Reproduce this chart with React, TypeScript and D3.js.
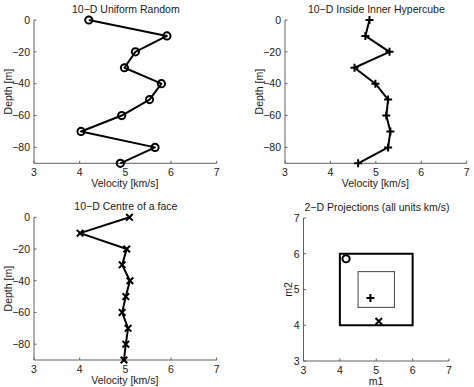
import { useEffect, useRef } from "react";
import * as d3 from "d3";

const depths = [0, -10, -20, -30, -40, -50, -60, -70, -80, -90];
const uniformRandom = [4.2, 5.91, 5.22, 4.98, 5.79, 5.53, 4.92, 4.03, 5.65, 4.89];
const innerHypercube = [4.86, 4.77, 5.3, 4.53, 4.99, 5.27, 5.23, 5.32, 5.27, 4.61];
const centreOfFace = [5.09, 4.01, 5.03, 4.93, 5.1, 5.01, 4.93, 5.06, 5.01, 4.97];
const velocityTicks = [3, 4, 5, 6, 7];
const depthTicks = [0, -20, -40, -60, -80];
const projTicks = [3, 4, 5, 6, 7];
// 2-D projection points [m1, m2]
const projPoints: { m: [number, number]; marker: string }[] = [
  { m: [4.17, 5.86], marker: "o" },
  { m: [4.84, 4.76], marker: "+" },
  { m: [5.07, 4.11], marker: "x" },
];
const outerBox = [4, 6];
const innerBox = [4.5, 5.5];

const W = 474;
const H = 387;
const axisColor = "#606060";
const textColor = "#1a1a1a";
const font = "'Liberation Sans', Arial, sans-serif";
const fs = 10.5;

const fmt = (v: number) => (v < 0 ? "\u2212" + Math.abs(v) : String(v));

function drawMarker(g: any, x: number, y: number, type: string) {
  if (type === "o") {
    g.append("circle").attr("cx", x).attr("cy", y).attr("r", 3.6)
      .attr("fill", "none").attr("stroke", "#000").attr("stroke-width", 2);
  } else if (type === "+") {
    const s = 4;
    g.append("path").attr("d", `M${x - s},${y}H${x + s}M${x},${y - s}V${y + s}`)
      .attr("stroke", "#000").attr("stroke-width", 2);
  } else {
    const s = 3.3;
    g.append("path")
      .attr("d", `M${x - s},${y - s}L${x + s},${y + s}M${x - s},${y + s}L${x + s},${y - s}`)
      .attr("stroke", "#000").attr("stroke-width", 2);
  }
}

function drawAxes(svg: any, x: any, y: any, xt: number[], yt: number[]) {
  const [x0, x1] = x.range();
  const [y0, y1] = y.range();
  const yb = Math.max(y0, y1);
  const yTop = Math.min(y0, y1);
  const g = svg.append("g");
  g.append("path").attr("d", `M${x0},${yTop}V${yb}H${x1}`)
    .attr("fill", "none").attr("stroke", axisColor).attr("stroke-width", 1);
  xt.forEach((t) => {
    const px = x(t);
    g.append("line").attr("x1", px).attr("x2", px).attr("y1", yb).attr("y2", yb - 2.5)
      .attr("stroke", axisColor);
    g.append("text").attr("x", px).attr("y", yb + 13).attr("text-anchor", "middle")
      .attr("font-size", fs).attr("font-family", font).attr("fill", textColor).text(fmt(t));
  });
  yt.forEach((t) => {
    const py = y(t);
    g.append("line").attr("x1", x0).attr("x2", x0 + 2.5).attr("y1", py).attr("y2", py)
      .attr("stroke", axisColor);
    g.append("text").attr("x", x0 - 4).attr("y", py + 3.8).attr("text-anchor", "end")
      .attr("font-size", fs).attr("font-family", font).attr("fill", textColor).text(fmt(t));
  });
}

function label(svg: any, x: number, y: number, txt: string, rotate = false) {
  svg.append("text")
    .attr("transform", `translate(${x},${y})${rotate ? " rotate(-90)" : ""}`)
    .attr("text-anchor", "middle").attr("dy", "0.35em")
    .attr("font-size", fs).attr("font-family", font).attr("fill", textColor).text(txt);
}

const App = () => {
  const svgRef = useRef(null);

  useEffect(() => {
    const svg = d3.select(svgRef.current);
    svg.selectAll("*").remove();

    const profiles = [
      { title: "10\u2212D Uniform Random", values: uniformRandom, marker: "o", box: [34, 216.7, 20, 163.3] },
      { title: "10\u2212D Inside Inner Hypercube", values: innerHypercube, marker: "+", box: [285, 466.7, 20, 163.3] },
      { title: "10\u2212D Centre of a face", values: centreOfFace, marker: "x", box: [34, 216.7, 217.3, 360] },
    ];

    profiles.forEach((p) => {
      const [l, r, t, b] = p.box;
      const x = d3.scaleLinear().domain([3, 7]).range([l, r]);
      const y = d3.scaleLinear().domain([0, -90]).range([t, b]);
      drawAxes(svg, x, y, velocityTicks, depthTicks);
      const line = d3.line<number>().x((d) => x(d)).y((_, i) => y(depths[i]));
      svg.append("path").attr("d", line(p.values)).attr("fill", "none")
        .attr("stroke", "#000").attr("stroke-width", 2).attr("stroke-linejoin", "round");
      const mg = svg.append("g");
      p.values.forEach((v, i) => drawMarker(mg, x(v), y(depths[i]), p.marker));
      label(svg, (l + r) / 2 + 0.5, t - 10.5, p.title);
      label(svg, (l + r) / 2 - 0.5, b + 20, "Velocity [km/s]");
      label(svg, l - 26, (t + b) / 2, "Depth [m]", true);
    });

    // 2-D projections
    const px = d3.scaleLinear().domain([3, 7]).range([303.5, 449]);
    const py = d3.scaleLinear().domain([3, 7]).range([361, 218]);
    drawAxes(svg, px, py, projTicks, projTicks);
    const rect = (lim: number[], w: number, c: string) =>
      svg.append("rect").attr("x", px(lim[0])).attr("y", py(lim[1]))
        .attr("width", px(lim[1]) - px(lim[0])).attr("height", py(lim[0]) - py(lim[1]))
        .attr("fill", "none").attr("stroke", c).attr("stroke-width", w);
    rect(outerBox, 2, "#000");
    rect(innerBox, 1, "#444");
    const mg = svg.append("g");
    projPoints.forEach((d) => drawMarker(mg, px(d.m[0]), py(d.m[1]), d.marker));
    label(svg, 377, 207, "2\u2212D Projections (all units km/s)");
    label(svg, 376, 381, "m1");
    label(svg, 288, 289.5, "m2", true);
  }, []);

  return (
    <svg ref={svgRef} width={W} height={H}
      style={{ position: "absolute", left: 0, top: 0, background: "#fff" }} />
  );
};

export default App;
